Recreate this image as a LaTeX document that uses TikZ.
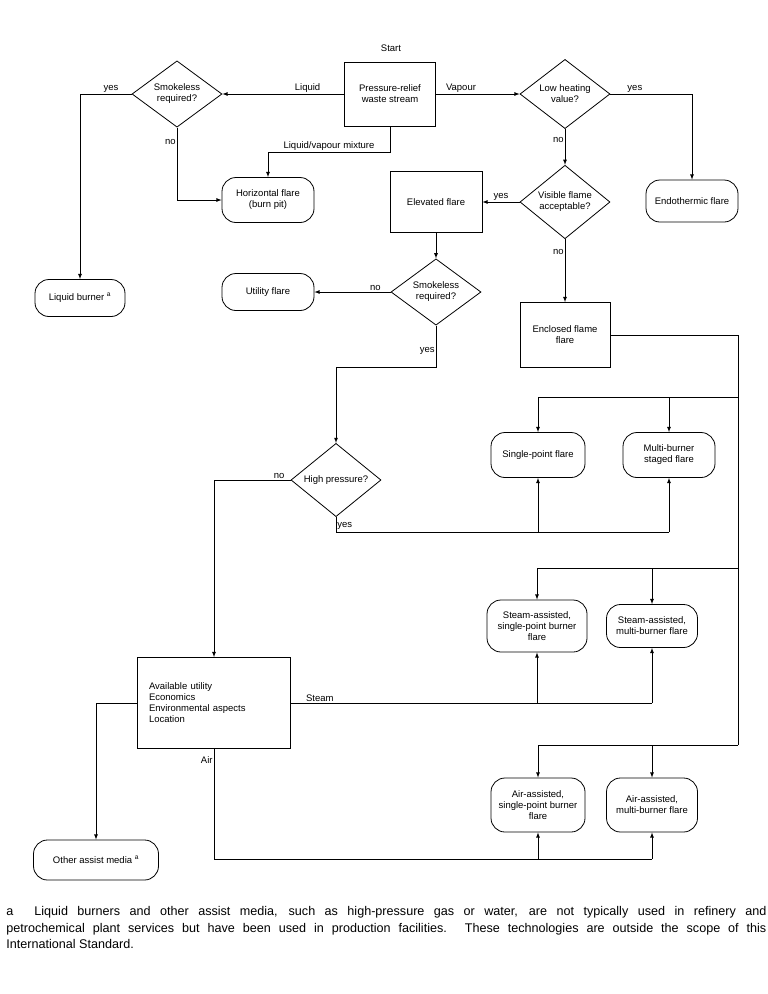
\documentclass[tikz,border=0pt]{standalone}
\usepackage{fontspec}
\setmainfont{Liberation Sans}
\usepackage{tikz}
\usetikzlibrary{shapes.geometric}
\usetikzlibrary{arrows}

\begin{document}
\begin{tikzpicture}[x=1pt,y=-1pt,line width=0.8pt,>=latex,
	every node/.style={font=\fontsize{9.5}{11}\selectfont},
	box/.style={draw, rectangle, inner sep=0, align=center},
	term/.style={draw, rectangle, rounded corners=14pt, inner sep=0, align=center},
	decide/.style={draw, diamond, inner sep=0, align=center, minimum width=90pt, minimum height=64pt},
	lbl/.style={inner sep=1pt}]
	\useasboundingbox (0,0) rectangle (768,994);
	% boxes
	\node[lbl] (start) at (391,48) {Start};
	\node[box, minimum width=91pt, minimum height=64pt] (stream) at (390,94) {Pressure-relief\\waste stream};
	\node[decide] (smoke1) at (177,94) {Smokeless\\required?};
	\node[decide] (lowheat) at (565,94) {Low heating\\value?};
	\node[term, minimum width=92pt, minimum height=45pt] (horiz) at (268,200) {Horizontal flare\\(burn pit)};
	\node[term, minimum width=90pt, minimum height=37pt] (liqburn) at (80,298) {Liquid burner $^{\mathrm{a}}$};
	\node[box, minimum width=92pt, minimum height=61pt] (elev) at (436,202) {Elevated flare};
	\node[decide, minimum height=61pt] (visible) at (565,202) {Visible flame\\acceptable?};
	\node[term, minimum width=92pt, minimum height=42pt] (endo) at (692,201) {Endothermic flare};
	\node[decide, minimum height=60pt] (smoke2) at (436,292) {Smokeless\\required?};
	\node[term, minimum width=92pt, minimum height=37pt] (utility) at (268,292) {Utility flare};
	\node[box, minimum width=90pt, minimum height=65pt] (enclosed) at (565,335) {Enclosed flame\\flare};
	\node[decide, minimum height=60pt] (highp) at (336,480) {High pressure?};
	\node[term, minimum width=94pt, minimum height=45pt] (single) at (538,455) {Single-point flare};
	\node[term, minimum width=92pt, minimum height=45pt] (multi) at (669,455) {Multi-burner\\staged flare};
	\node[term, minimum width=100pt, minimum height=52pt] (stsingle) at (537,626) {Steam-assisted,\\single-point burner\\flare};
	\node[term, minimum width=91pt, minimum height=43pt] (stmulti) at (652,626) {Steam-assisted,\\multi-burner flare};
	\node[term, minimum width=94pt, minimum height=54pt] (airsingle) at (538,805) {Air-assisted,\\single-point burner\\flare};
	\node[term, minimum width=91pt, minimum height=54pt] (airmulti) at (652,805) {Air-assisted,\\multi-burner flare};
	\node[box, minimum width=153pt, minimum height=91pt, align=left, text width=130pt, inner xsep=11pt] (utilbox) at (214,703) {Available utility\\Economics\\Environmental aspects\\Location};
	\node[term, minimum width=125pt, minimum height=40pt] (other) at (96,860) {Other assist media $^{\mathrm{a}}$};
	% connectors
	\draw[->] (stream.west) -- node[lbl, above, pos=0.3] {Liquid} (smoke1.east);
	\draw[->] (stream.east) -- node[lbl, above, pos=0.3] {Vapour} (lowheat.west);
	\draw[->] (smoke1.west) -- node[lbl, above, pos=0.4] {yes} (80,94) -- (liqburn.north);
	\draw[->] (smoke1.south) -- node[lbl, left, pos=0.2] {no} (177,200) -- (horiz.west);
	\draw[->] (stream.south) -- (390,152) -- node[lbl, above] {Liquid/vapour mixture} (268,152) -- (horiz.north);
	\draw[->] (lowheat.east) -- node[lbl, above, pos=0.3] {yes} (692,94) -- (endo.north);
	\draw[->] (lowheat.south) -- node[lbl, left, pos=0.3] {no} (visible.north);
	\draw[->] (visible.west) -- node[lbl, above] {yes} (elev.east);
	\draw[->] (visible.south) -- node[lbl, left, pos=0.2] {no} (enclosed.north);
	\draw[->] (elev.south) -- (smoke2.north);
	\draw[->] (smoke2.west) -- node[lbl, above, pos=0.2] {no} (utility.east);
	\draw[->] (smoke2.south) -- node[lbl, left, pos=0.6] {yes} (436,367) -- (336,367) -- (highp.north);
	\draw[->] (highp.west) -- node[lbl, above, pos=0.15] {no} (214,480) -- (utilbox.north);
	\draw (highp.south) -- node[lbl, right, pos=0.6] {yes} (336,532) -- (669,532);
	\draw[->] (538,532) -- (single.south);
	\draw[->] (669,532) -- (multi.south);
	\draw (enclosed.east) -- (738,335) -- (738,745);
	\draw[->] (738,397) -- (538,397) -- (single.north);
	\draw[->] (669,397) -- (multi.north);
	\draw[->] (738,568) -- (537,568) -- (stsingle.north);
	\draw[->] (652,568) -- (stmulti.north);
	\draw[->] (738,745) -- (538,745) -- (airsingle.north);
	\draw[->] (652,745) -- (airmulti.north);
	\draw (utilbox.east) -- node[lbl, above, pos=0.08] {Steam} (652,703);
	\draw[->] (537,703) -- (stsingle.south);
	\draw[->] (652,703) -- (stmulti.south);
	\draw (utilbox.south) -- node[lbl, left, pos=0.1] {Air} (214,859) -- (652,859);
	\draw[->] (538,859) -- (airsingle.south);
	\draw[->] (652,859) -- (airmulti.south);
	\draw[->] (utilbox.west) -- (96,703) -- (other.north);
	% footnote
	\node[lbl, anchor=north west, text width=760pt, align=justify, font=\fontsize{12.6}{16.5}\selectfont] (note) at (5,905)
	{\makebox[28pt][l]{a}Liquid burners and other assist media, such as high-pressure gas or water, are not typically used in refinery and\linebreak petrochemical plant services but have been used in production facilities. These technologies are outside the scope of this\linebreak International Standard.};
\end{tikzpicture}
\end{document}
